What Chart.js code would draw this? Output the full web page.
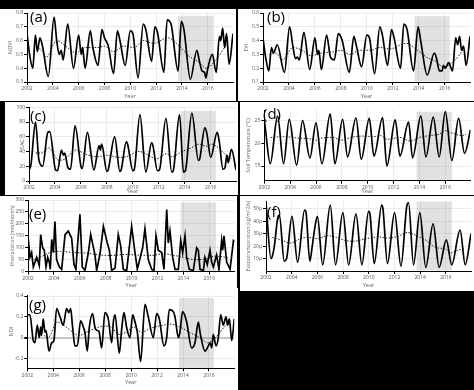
<!DOCTYPE html>
<html>
<head>
<meta charset="utf-8">
<script src="https://cdn.jsdelivr.net/npm/chart.js@4.4.1/dist/chart.umd.min.js"></script>
<style>
  html, body { margin:0; padding:0; background:#000; width:474px; height:390px; overflow:hidden; }
  canvas { position:absolute; background:#fff; display:block; }
  .tag { position:absolute; font:15px "Open Sans", sans-serif; color:#000; line-height:1; }
</style>
</head>
<body>
<canvas id="cA"></canvas><canvas id="cB"></canvas>
<canvas id="cC"></canvas><canvas id="cD"></canvas>
<canvas id="cE"></canvas><canvas id="cF"></canvas>
<canvas id="cG"></canvas>
<div class="tag" style="left:30px;top:9px">(a)</div>
<div class="tag" style="left:267px;top:9px">(b)</div>
<div class="tag" style="left:30px;top:108px">(c)</div>
<div class="tag" style="left:263px;top:106px">(d)</div>
<div class="tag" style="left:29px;top:206px">(e)</div>
<div class="tag" style="left:267px;top:204px">(f)</div>
<div class="tag" style="left:29px;top:297px">(g)</div>
<script>
// ── data: [year, value] ─────────────────────────────────
const yearTicks = [2002, 2004, 2006, 2008, 2010, 2012, 2014, 2016];

const ndvi = [[2002.0,.65],[2002.2,.50],[2002.45,.40],[2002.65,.64],[2002.8,.52],[2003.0,.62],[2003.2,.56],[2003.65,.34],
  [2004.1,.77],[2004.3,.60],[2004.5,.50],[2004.65,.53],[2004.8,.46],[2005.15,.72],[2005.6,.40],[2006.0,.64],[2006.2,.50],
  [2006.3,.55],[2006.5,.40],[2006.9,.67],[2007.1,.55],[2007.5,.42],[2007.8,.68],[2008.0,.62],[2008.3,.56],[2008.7,.36],
  [2009.0,.67],[2009.2,.60],[2009.6,.42],[2010.0,.67],[2010.2,.65],[2010.6,.33],[2011.0,.72],[2011.2,.68],[2011.65,.45],
  [2011.9,.70],[2012.1,.66],[2012.6,.37],[2012.85,.75],[2013.15,.72],[2013.7,.38],[2013.95,.74],[2014.15,.68],[2014.65,.32],
  [2015.15,.53],[2015.35,.45],[2015.55,.38],[2015.75,.37],[2015.85,.33],[2016.0,.40],[2016.35,.50],[2016.65,.37],
  [2016.9,.63],[2017.0,.60],[2017.15,.69],[2017.3,.55],[2017.45,.65],[2017.65,.43],[2017.95,.65]];
const ndviTrend = [[2002.5,.53],[2003.0,.54],[2003.5,.48],[2004.3,.60],[2005.0,.56],[2005.8,.51],[2006.5,.55],[2007.5,.55],
  [2008.0,.56],[2008.7,.52],[2009.5,.56],[2010.3,.55],[2011.0,.60],[2011.8,.58],[2012.9,.62],[2013.8,.56],[2014.5,.49],
  [2015.2,.45],[2015.9,.40],[2016.7,.47],[2017.5,.58]];
const ndviTicks = [0.3, 0.4, 0.5, 0.6, 0.7, 0.8];

const evi = [[2002.0,.42],[2002.2,.28],[2002.45,.18],[2002.65,.35],[2002.8,.31],[2003.1,.37],[2003.65,.17],[2004.05,.50],
  [2004.3,.36],[2004.5,.27],[2004.65,.28],[2004.8,.26],[2005.15,.46],[2005.6,.19],[2006.0,.42],[2006.2,.30],[2006.3,.33],
  [2006.5,.19],[2006.9,.44],[2007.2,.28],[2007.5,.26],[2007.8,.45],[2008.1,.40],[2008.65,.17],[2009.0,.43],[2009.2,.36],
  [2009.6,.21],[2010.0,.44],[2010.2,.42],[2010.6,.16],[2011.0,.50],[2011.2,.44],[2011.6,.22],[2011.9,.48],[2012.1,.42],
  [2012.6,.20],[2012.85,.52],[2013.1,.48],[2013.6,.18],[2013.95,.50],[2014.15,.40],[2014.65,.15],[2015.2,.31],[2015.35,.28],
  [2015.6,.18],[2015.8,.18],[2015.9,.22],[2016.05,.20],[2016.3,.24],[2016.6,.18],[2016.85,.42],[2017.0,.37],[2017.15,.43],
  [2017.3,.33],[2017.45,.36],[2017.65,.22],[2017.95,.43]];
const eviTrend = [[2002.5,.30],[2003.0,.31],[2003.5,.26],[2004.3,.35],[2005.0,.33],[2005.7,.29],[2006.5,.31],[2007.5,.32],
  [2008.0,.33],[2008.7,.30],[2009.5,.33],[2010.3,.33],[2011.0,.35],[2011.8,.34],[2013.0,.38],[2013.9,.33],[2014.6,.28],
  [2015.3,.25],[2015.9,.21],[2016.7,.25],[2017.5,.34]];
const eviTicks = [0.1, 0.2, 0.3, 0.4, 0.5, 0.6];

const sac = [[2002.0,15],[2002.15,22],[2002.5,80],[2002.75,30],[2002.9,22],[2003.05,20],[2003.45,66],[2003.6,67],
  [2004.05,15],[2004.2,14],[2004.5,42],[2004.65,35],[2004.75,38],[2005.0,18],[2005.2,16],[2005.55,75],[2006.0,20],
  [2006.1,17],[2006.5,66],[2007.0,15],[2007.4,48],[2007.5,42],[2007.6,50],[2008.0,13],[2008.1,15],[2008.6,60],[2009.0,13],
  [2009.1,15],[2009.5,53],[2009.6,50],[2010.0,14],[2010.1,15],[2010.55,90],[2011.0,12],[2011.45,52],[2011.55,48],
  [2011.9,14],[2012.05,15],[2012.55,85],[2013.0,12],[2013.1,13],[2013.6,90],[2013.9,12],[2014.05,14],[2014.55,92],
  [2015.05,28],[2015.15,30],[2015.55,72],[2015.7,65],[2016.0,32],[2016.5,66],[2016.65,55],[2016.95,16],[2017.1,18],
  [2017.25,35],[2017.35,25],[2017.6,43],[2017.95,15]];
const sacTrend = [[2002.5,38],[2003.0,38],[2003.5,45],[2004.3,28],[2004.8,30],[2005.6,42],[2006.4,36],[2007.3,33],
  [2008.0,35],[2009.0,32],[2009.5,33],[2010.5,40],[2011.1,36],[2011.8,30],[2012.6,37],[2013.0,33],[2013.8,40],[2014.5,45],
  [2015.1,50],[2015.7,47],[2016.1,50],[2016.6,45],[2017.2,35],[2017.6,30]];
const sacTicks = [0, 20, 40, 60, 80, 100];

const soil = [[2002.0,25.0],[2002.05,24.0],[2002.46,15.5],[2003.03,26.0],[2003.49,15.5],[2003.93,25.3],[2004.5,15.2],
  [2004.96,25.0],[2005.53,16.8],[2006.0,24.5],[2006.46,15.5],[2007.1,26.5],[2007.46,15.5],[2008.06,25.3],[2008.44,17.0],
  [2009.09,25.6],[2009.5,16.5],[2010.12,25.5],[2010.48,17.2],[2011.15,25.7],[2011.48,15.0],[2012.13,25.2],[2012.49,17.2],
  [2013.16,24.7],[2013.47,16.8],[2014.11,26.0],[2014.5,17.0],[2015.07,25.8],[2015.53,17.0],[2016.0,27.0],[2016.51,16.2],
  [2017.03,25.5],[2017.49,17.8],[2017.95,23.0]];
const soilTrend = [[2002.5,21.3],[2003.5,21.5],[2004.5,21.2],[2005.5,21.0],[2006.0,20.7],[2006.5,21.2],[2007.3,21.3],
  [2008.0,20.7],[2008.7,21.3],[2009.5,21.6],[2010.5,21.5],[2011.0,21.7],[2011.5,20.9],[2012.5,21.3],[2013.3,20.5],
  [2014.0,21.3],[2014.8,21.7],[2015.5,22.0],[2016.0,22.8],[2016.5,22.3],[2017.3,21.7],[2017.6,22.0]];
const soilTicks = [15, 20, 25];

const prec = [[2002.0,150],[2002.15,60],[2002.28,80],[2002.41,20],[2002.54,40],[2002.67,60],[2002.87,25],[2002.98,155],
  [2003.13,100],[2003.26,90],[2003.39,20],[2003.52,60],[2003.65,40],[2003.72,10],[2003.83,135],[2003.96,80],[2004.08,210],
  [2004.21,50],[2004.42,20],[2004.6,10],[2004.86,155],[2005.11,170],[2005.37,140],[2005.55,30],[2005.7,10],[2005.81,100],
  [2006.01,240],[2006.19,20],[2006.4,5],[2006.66,80],[2006.84,155],[2007.17,70],[2007.3,5],[2007.56,75],[2007.82,190],
  [2008.12,120],[2008.28,90],[2008.46,5],[2008.72,15],[2008.97,155],[2009.15,110],[2009.36,10],[2009.62,5],[2010.0,190],
  [2010.26,80],[2010.44,10],[2010.85,100],[2011.03,180],[2011.29,50],[2011.55,10],[2011.73,5],[2011.88,150],[2012.06,90],
  [2012.32,80],[2012.5,10],[2012.71,260],[2012.83,120],[2012.96,170],[2013.17,60],[2013.35,10],[2013.61,10],[2013.79,130],
  [2013.94,80],[2014.12,150],[2014.25,60],[2014.45,10],[2014.76,5],[2015.02,100],[2015.15,90],[2015.28,10],[2015.54,5],
  [2015.66,60],[2015.84,30],[2016.05,90],[2016.18,40],[2016.31,20],[2016.56,70],[2016.74,10],[2016.95,130],[2017.03,90],
  [2017.13,150],[2017.34,40],[2017.6,10],[2017.86,130],[2017.95,125]];
const precTrend = [[2002.5,50],[2003.0,62],[2003.7,80],[2004.5,85],[2005.5,80],[2006.5,78],[2007.5,70],[2008.5,68],
  [2009.5,72],[2010.5,70],[2011.5,68],[2012.5,75],[2013.3,68],[2014.0,60],[2015.0,50],[2015.8,55],[2016.5,65],[2017.5,58]];
const precTicks = [0, 50, 100, 150, 200, 250, 300];

const evap = [[2002.0,55],[2002.39,10],[2002.5,12],[2002.65,20],[2002.9,42],[2003.04,45],[2003.42,8],[2003.6,10],
  [2004.02,44],[2004.46,7],[2005.0,49],[2005.1,48],[2005.41,8],[2005.6,20],[2005.83,37],[2006.0,44],[2006.41,5],
  [2007.0,53],[2007.41,5],[2007.98,47],[2008.43,5],[2009.0,46],[2009.46,5],[2009.98,48],[2010.1,45],[2010.42,6],
  [2011.0,53],[2011.1,50],[2011.45,6],[2012.0,47],[2012.5,4],[2012.95,52],[2013.09,55],[2013.48,5],[2013.97,47],
  [2014.43,3],[2015.0,38],[2015.47,3],[2016.03,25],[2016.45,5],[2017.1,33],[2017.5,5],[2017.95,30]];
const evapTrend = [[2002.5,27],[2003.2,25],[2003.9,22.5],[2004.8,26.5],[2005.4,27],[2006.0,26],[2006.8,28.5],[2007.5,27],
  [2008.2,24.5],[2008.8,24],[2009.8,26],[2010.8,27.5],[2011.4,26.5],[2012.3,28],[2013.0,31],[2013.8,28],[2014.5,24.5],
  [2015.2,19],[2016.0,17.5],[2016.3,14.5],[2017.0,17],[2017.5,18]];
const evapTicks = [10, 20, 30, 40, 50];

const ndi = [[2002.0,.22],[2002.2,.22],[2002.46,-.03],[2002.59,-.05],[2002.77,.12],[2002.92,.00],[2003.03,.10],[2003.1,.02],
  [2003.23,.18],[2003.36,.05],[2003.44,.07],[2003.67,-.13],[2003.88,-.05],[2004.05,-.03],[2004.26,.28],[2004.52,.20],
  [2004.77,.12],[2005.03,.28],[2005.19,.24],[2005.34,.28],[2005.49,.10],[2005.67,-.08],[2005.85,-.08],[2006.11,.16],
  [2006.32,.10],[2006.44,.05],[2006.62,-.13],[2006.78,.10],[2007.03,.23],[2007.21,.10],[2007.34,.07],[2007.52,.06],
  [2007.73,-.10],[2007.98,.24],[2008.24,.18],[2008.5,-.05],[2008.63,.15],[2008.76,.22],[2009.09,-.15],[2009.27,.08],
  [2009.45,.24],[2009.65,.10],[2009.91,.00],[2010.12,.22],[2010.3,.15],[2010.48,.05],[2010.73,-.23],[2011.07,.32],
  [2011.32,.20],[2011.71,.00],[2011.97,.23],[2012.17,.18],[2012.53,-.08],[2012.74,.00],[2012.94,.27],[2013.25,.25],
  [2013.38,.20],[2013.64,.00],[2013.76,.05],[2013.97,.25],[2014.28,.15],[2014.66,-.10],[2014.92,-.05],[2015.18,.15],
  [2015.31,.05],[2015.69,-.13],[2015.95,-.08],[2016.08,-.05],[2016.21,-.10],[2016.33,.03],[2016.54,-.08],[2016.72,.00],
  [2016.9,.22],[2017.1,.12],[2017.31,.20],[2017.44,.12],[2017.57,.18],[2017.75,-.03],[2017.95,.18]];
const ndiTrend = [[2003.3,.02],[2003.6,.00],[2004.3,.15],[2005.0,.10],[2006.0,.02],[2006.7,.06],[2007.5,.10],[2008.3,.11],
  [2009.1,.03],[2009.6,.05],[2010.2,.10],[2010.8,.05],[2011.5,.09],[2012.5,.12],[2013.0,.13],[2013.8,.10],[2014.5,.05],
  [2015.3,.00],[2015.9,-.05],[2016.5,.00],[2017.3,.12],[2017.6,.15]];
const ndiTicks = [-0.2, 0, 0.2, 0.4];

// ── shaded period ───────────────────────────────────────
const shadePlugin = {
  id: 'shade',
  beforeDatasetsDraw(chart, args, opts) {
    const { ctx, chartArea: a, scales: { x, y } } = chart;
    const x0 = x.getPixelForValue(opts.from), x1 = x.getPixelForValue(opts.to);
    const y0 = y.getPixelForValue(opts.top);
    ctx.save();
    ctx.fillStyle = 'rgba(120,120,120,0.22)';
    ctx.fillRect(x0, y0, x1 - x0, a.bottom - 0.5 - y0);
    ctx.restore();
  }
};

const FONT = '"Open Sans", sans-serif';

function makePanel(p) {
  const cv = document.getElementById(p.id);
  const [L, T, W, H] = p.box;
  cv.width = W; cv.height = H;
  cv.style.left = L + 'px'; cv.style.top = T + 'px';
  cv.style.width = W + 'px'; cv.style.height = H + 'px';
  const yW = p.area[0] - L, padT = p.area[1] - T, padR = L + W - p.area[2], xH = T + H - p.area[3];
  const pts = arr => arr.map(([x, y]) => ({ x, y }));

  new Chart(cv, {
    type: 'line',
    data: {
      datasets: [
        { data: pts(p.series), borderColor: '#000', borderWidth: 1.7, pointRadius: 0,
          cubicInterpolationMode: p.smooth ? 'monotone' : 'default', tension: 0, fill: false },
        { data: pts(p.trend), borderColor: '#222', borderWidth: 1, borderDash: [1.5, 1.5],
          pointRadius: 0, cubicInterpolationMode: 'monotone', fill: false }
      ]
    },
    options: {
      responsive: false, animation: false, events: [],
      layout: { padding: { top: padT, right: padR, left: 0, bottom: 0 } },
      plugins: { legend: { display: false }, tooltip: { enabled: false },
                 shade: { from: p.shade[0], to: p.shade[1], top: p.shadeTop } },
      scales: {
        x: {
          type: 'linear', min: 2002, max: 2017.95,
          afterBuildTicks: s => { s.ticks = yearTicks.map(v => ({ value: v })); },
          afterFit: s => { s.height = xH; },
          grid: { color: '#ebebeb', tickColor: '#000', tickLength: 3 },
          border: { color: '#000', width: 1 },
          ticks: { font: { size: 5, family: FONT }, color: '#555', padding: 1, maxRotation: 0,
                   autoSkip: false, callback: v => String(v) },
          title: { display: true, text: 'Year', color: '#666', font: { size: 5.5, family: FONT },
                   padding: { top: 0, bottom: p.xTitlePad } }
        },
        y: {
          min: p.yMin, max: p.yMax,
          afterBuildTicks: s => { s.ticks = p.yTicks.map(v => ({ value: v })); },
          afterFit: s => { s.width = yW; },
          grid: {
            color: c => (p.zero && c.tick && c.tick.value === 0) ? '#c4c4c4' : '#ebebeb',
            lineWidth: c => (p.zero && c.tick && c.tick.value === 0) ? 2 : 1,
            tickColor: '#000', tickLength: 3
          },
          border: { color: '#000', width: 1 },
          ticks: { font: { size: 5, family: FONT }, color: '#555', padding: 1,
                   callback: v => String(v) + (p.unit || '') },
          title: { display: true, text: p.yTitle, color: '#666', font: { size: p.yTitleSize || 5.5, family: FONT },
                   padding: { top: p.yTitlePad, bottom: 0 } }
        }
      }
    },
    plugins: [shadePlugin]
  });
}

makePanel({ id: 'cA', box: [0, 9, 236, 92], area: [27, 10, 233, 82], series: ndvi, trend: ndviTrend, smooth: true,
  yMin: 0.3, yMax: 0.8, yTicks: ndviTicks, yTitle: 'NDVI', yTitlePad: 6.7, xTitlePad: 1.7,
  shade: [2013.7, 2016.45], shadeTop: 0.78 });
makePanel({ id: 'cB', box: [238, 9, 236, 92], area: [263, 10, 470, 82], series: evi, trend: eviTrend, smooth: true,
  yMin: 0.1, yMax: 0.6, yTicks: eviTicks, yTitle: 'EVI', yTitlePad: 4.7, xTitlePad: 1.7,
  shade: [2013.69, 2016.38], shadeTop: 0.577 });
makePanel({ id: 'cC', box: [5, 102, 233, 93], area: [29, 107.3, 236, 181], series: sac, trend: sacTrend, smooth: true,
  yMin: 0, yMax: 100, yTicks: sacTicks, yTitle: 'SAC', yTitlePad: 14.2, xTitlePad: 0,
  shade: [2013.7, 2016.4], shadeTop: 95 });
makePanel({ id: 'cD', box: [240, 102, 234, 93], area: [264.3, 110, 470.5, 180.7], series: soil, trend: soilTrend, smooth: true,
  yMin: 11.76, yMax: 27.36, yTicks: soilTicks, yTitle: 'Soil Temperature (°C)', yTitlePad: 5.4, xTitlePad: 0,
  shade: [2013.78, 2016.51], shadeTop: 26.98 });
makePanel({ id: 'cE', box: [0, 196, 237, 94], area: [28, 198.3, 234.6, 271.7], series: prec, trend: precTrend, smooth: false,
  yMin: 0, yMax: 300, yTicks: precTicks, yTitle: 'Precipitation (mm/month)', yTitleSize: 5, yTitlePad: 10, xTitlePad: 1.7,
  shade: [2013.79, 2016.51], shadeTop: 290 });
makePanel({ id: 'cF', box: [240, 196, 234, 95], area: [266, 201, 471, 271], series: evap, trend: evapTrend, smooth: true,
  yMin: 0, yMax: 56.4, yTicks: evapTicks, unit: 'μ', yTitle: 'Evapotranspiration (kg/m^2/s)', yTitleSize: 5,
  yTitlePad: 5.7, xTitlePad: 2.7, shade: [2013.71, 2016.46], shadeTop: 56 });
makePanel({ id: 'cG', box: [0, 288, 238, 102], area: [27.3, 295, 234.3, 368.3], series: ndi, trend: ndiTrend, smooth: true,
  yMin: -0.296, yMax: 0.41, yTicks: ndiTicks, zero: true, yTitle: 'NDI', yTitlePad: 8.4, xTitlePad: 4,
  shade: [2013.69, 2016.38], shadeTop: 0.38 });
</script>
</body>
</html>
